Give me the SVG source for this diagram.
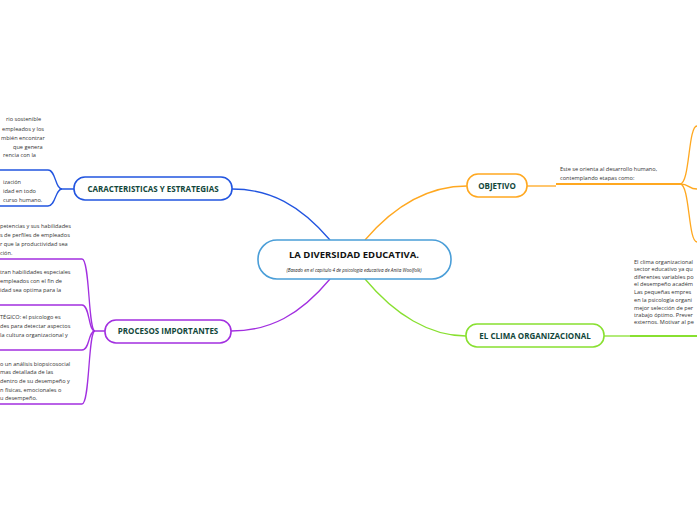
<svg xmlns="http://www.w3.org/2000/svg" width="697" height="520" viewBox="0 0 697 520">
<style>
.n{fill:#fff;stroke-width:1.6}
.t{font-family:"Open Sans",sans-serif;font-weight:bold;font-size:8px;fill:#12473b;text-anchor:middle}
.s{font-family:"Open Sans",sans-serif;font-size:5.6px;fill:#333}
.c{fill:none;stroke-width:1.3}
</style>
<rect width="697" height="520" fill="#fff"/>
<g id="connectors">
<path class="c" stroke="#2255e0" d="M330 240 C300 205 270 189 232 189"/>
<path class="c" stroke="#a22fe0" d="M330 279 C300 315 270 331 231 331"/>
<path class="c" stroke="#ffa820" d="M365 240 C395 205 430 186 467 186"/>
<path class="c" stroke="#88e030" d="M365 279 C395 315 430 336 466 336"/>
<g stroke="#2255e0" class="c"><path d="M74 189 H62 C55 189 56 170 48 170 H0"/><path d="M62 189 C55 189 56 206 48 206 H0"/></g>
<g stroke="#a22fe0" class="c"><path d="M105 331 H95 C88 331 90 259 82 259 H0"/><path d="M95 331 C88 331 90 305 82 305 H0"/><path d="M95 331 C88 331 90 350 82 350 H0"/><path d="M95 331 C88 331 90 404 82 404 H0"/></g>
<g stroke="#ffa820" class="c"><path d="M527 186 H556"/><path d="M556 184 H680" stroke-width="2"/><path d="M680 184 C690 184 688 126 697 126"/><path d="M680 184 C690 184 688 189 697 189"/><path d="M680 184 C690 184 688 242 697 242"/></g>
<g stroke="#88e030" class="c"><path d="M604 336 H630"/><path d="M630 336 H697" stroke-width="2"/></g>
</g>
<g id="center"><rect class="n" stroke="#4a9ed8" x="258" y="240" width="193" height="39" rx="19"/>
<text class="t" x="354" y="258" style="font-size:9.5px;fill:#111">LA DIVERSIDAD EDUCATIVA.</text>
<text class="t" x="354" y="272" style="font-size:4.6px;font-weight:normal;font-style:italic;fill:#222">(Basado en el capitulo 4 de psicologia educativa  de Anita Woolfolk)</text></g>
<g id="caract"><rect class="n" stroke="#2255e0" x="74" y="177" width="158" height="23" rx="11"/><text class="t" x="153" y="192">CARACTERISTICAS Y ESTRATEGIAS</text></g>
<g id="procesos"><rect class="n" stroke="#a22fe0" x="105" y="320" width="126" height="23" rx="11"/><text class="t" x="168" y="334">PROCESOS IMPORTANTES</text></g>
<g id="objetivo"><rect class="n" stroke="#ffa820" x="467" y="174" width="60" height="23" rx="11"/><text class="t" x="497" y="189">OBJETIVO</text></g>
<g id="clima"><rect class="n" stroke="#88e030" x="466" y="324" width="138" height="23" rx="11"/><text class="t" x="535" y="339">EL CLIMA ORGANIZACIONAL</text></g>
<g id="t1" class="s"><text x="6" y="121">rio sostenible</text><text x="2" y="131">empleados y los</text><text x="1" y="140">mbién encontrar</text><text x="13" y="149">que genera</text><text x="3" y="157">rencia con la</text></g>
<g id="t2" class="s"><text x="3" y="184">ización</text><text x="3" y="193">idad en todo</text><text x="3" y="202">curso humano.</text></g>
<g id="t3" class="s"><text x="0" y="228">petencias y sus habilidades</text><text x="0" y="237">s de perfiles de empleados</text><text x="0" y="246">r que la productividad sea</text><text x="0" y="255">ción.</text></g>
<g id="t4" class="s"><text x="0" y="274">tran habilidades especiales</text><text x="0" y="283">empleados con el fin de</text><text x="0" y="292">idad sea optima para la</text></g>
<g id="t5" class="s"><text x="0" y="319">TÉGICO: el psicologo es</text><text x="0" y="328">des para detectar aspectos</text><text x="0" y="337">la cultura organizacional y</text></g>
<g id="t6" class="s"><text x="0" y="366">o un análisis biopsicosocial</text><text x="0" y="374">mas detallada de las</text><text x="0" y="383">dentro de su desempeño y</text><text x="0" y="392">n físicas, emocionales o</text><text x="0" y="400">u desempeño.</text></g>
<g id="t7" class="s"><text x="560" y="171">Este se orienta al desarrollo humano,</text><text x="560" y="180">contemplando etapas como:</text></g>
<g id="t8" class="s"><text x="634" y="264">El clima organizacional</text><text x="634" y="271">sector educativo ya qu</text><text x="634" y="279">diferentes variables po</text><text x="634" y="286">el desempeño académ</text><text x="634" y="294">Las pequeñas empres</text><text x="634" y="302">en la psicología organi</text><text x="634" y="310">mejor selección de per</text><text x="634" y="317">trabajo óptimo. Prever</text><text x="634" y="324">externos. Motivar al pe</text></g>
</svg>
